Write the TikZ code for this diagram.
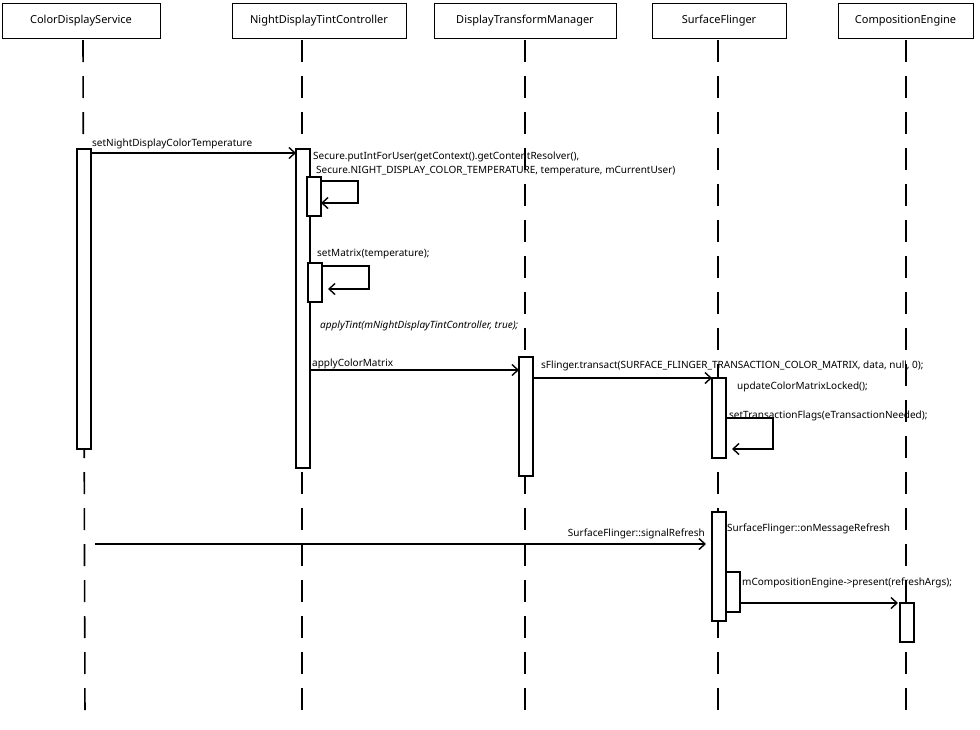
\documentclass[tikz,border=0pt]{standalone}
\usepackage{fontspec}
\setmainfont{Noto Sans}
\usetikzlibrary{arrows.meta}
\begin{document}
\begin{tikzpicture}[x=1pt,y=-1pt,
  hdr/.style={draw,line width=0.8pt,minimum height=35pt,inner sep=0pt,font=\fontsize{11}{13}\selectfont},
  life/.style={line width=1.6pt,dash pattern=on 22pt off 14pt},
  act/.style={draw,line width=1.6pt,fill=white},
  msg/.style={line width=1.6pt,-{Straight Barb[length=6pt,width=11pt,line width=1.4pt]}},
  lbl/.style={font=\fontsize{10}{12}\selectfont,inner sep=0pt,anchor=base west}]
\useasboundingbox (0,0) rectangle (980,729);
\fill[white] (0,0) rectangle (980,729);
% headers
\node[hdr,minimum width=158pt] (h1) at (81,20.5) {ColorDisplayService};
\node[hdr,minimum width=174pt] (h2) at (319,20.5) {NightDisplayTintController};
\node[hdr,minimum width=182pt] (h3) at (525,20.5) {DisplayTransformManager};
\node[hdr,minimum width=134pt] (h4) at (719,20.5) {SurfaceFlinger};
\node[hdr,minimum width=135pt] (h5) at (905.5,20.5) {CompositionEngine};
% lifelines
\draw[life] (83,40) -- (85,720);
\draw[life] (302,40) -- (302,720);
\draw[life] (525,40) -- (525,720);
\draw[life] (718,40) -- (718,720);
\draw[life] (906,40) -- (906,720);
% activations
\draw[act] (77,149) rectangle (91,449);
\draw[act] (296,149) rectangle (310,468);
\draw[act] (307,177) rectangle (321,216);
\draw[act] (308,263) rectangle (322,302);
\draw[act] (519,357) rectangle (533,476);
\draw[act] (712,378) rectangle (726,458);
\draw[act] (712,512) rectangle (726,621);
\draw[act] (726,572) rectangle (740,612);
\draw[act] (900,603) rectangle (914,642);
\coordinate (a1) at (91,153); \coordinate (b1) at (296,153);
\draw[msg] (a1) -- (b1);
\node[lbl] (t1) at (92,146) {setNightDisplayColorTemperature};
\node[lbl] (t2) at (313,159) {Secure.putIntForUser(getContext().getContentResolver(),};
\node[lbl] (t3) at (316,173) {Secure.NIGHT\_DISPLAY\_COLOR\_TEMPERATURE, temperature, mCurrentUser)};
\coordinate (s1) at (321,181); \coordinate (s1e) at (321,203);
\draw[msg] (s1) -- (358,181) -- (358,203) -- (s1e);
\node[lbl] (t4) at (317,256) {setMatrix(temperature);};
\coordinate (s2) at (322,266); \coordinate (s2e) at (328,289);
\draw[msg] (s2) -- (369,266) -- (369,289) -- (s2e);
\node[lbl] (t5) at (320,328) {\itshape applyTint(mNightDisplayTintController, true);};
\coordinate (a3) at (310,370); \coordinate (b3) at (519,370);
\draw[msg] (a3) -- (b3);
\node[lbl] (t6) at (312,366) {applyColorMatrix};
\coordinate (a4) at (533,378); \coordinate (b4) at (712,378);
\draw[msg] (a4) -- (b4);
\node[lbl] (t7) at (541,368) {sFlinger.transact(SURFACE\_FLINGER\_TRANSACTION\_COLOR\_MATRIX, data, null, 0);};
\node[lbl] (t8) at (737,389) {updateColorMatrixLocked();};
\node[lbl] (t9) at (729,418) {setTransactionFlags(eTransactionNeeded);};
\coordinate (s3) at (726,418); \coordinate (s3e) at (732,449);
\draw[msg] (s3) -- (773,418) -- (773,449) -- (s3e);
\coordinate (a5) at (95,544); \coordinate (b5) at (706,544);
\draw[msg] (a5) -- (b5);
\node[lbl,anchor=base east] (t10) at (705,536) {SurfaceFlinger::signalRefresh};
\node[lbl] (t11) at (727,531) {SurfaceFlinger::onMessageRefresh};
\coordinate (a6) at (740,603); \coordinate (b6) at (898,603);
\draw[msg] (a6) -- (b6);
\node[lbl] (t12) at (742,585) {mCompositionEngine->present(refreshArgs);};
\end{tikzpicture}
\end{document}
